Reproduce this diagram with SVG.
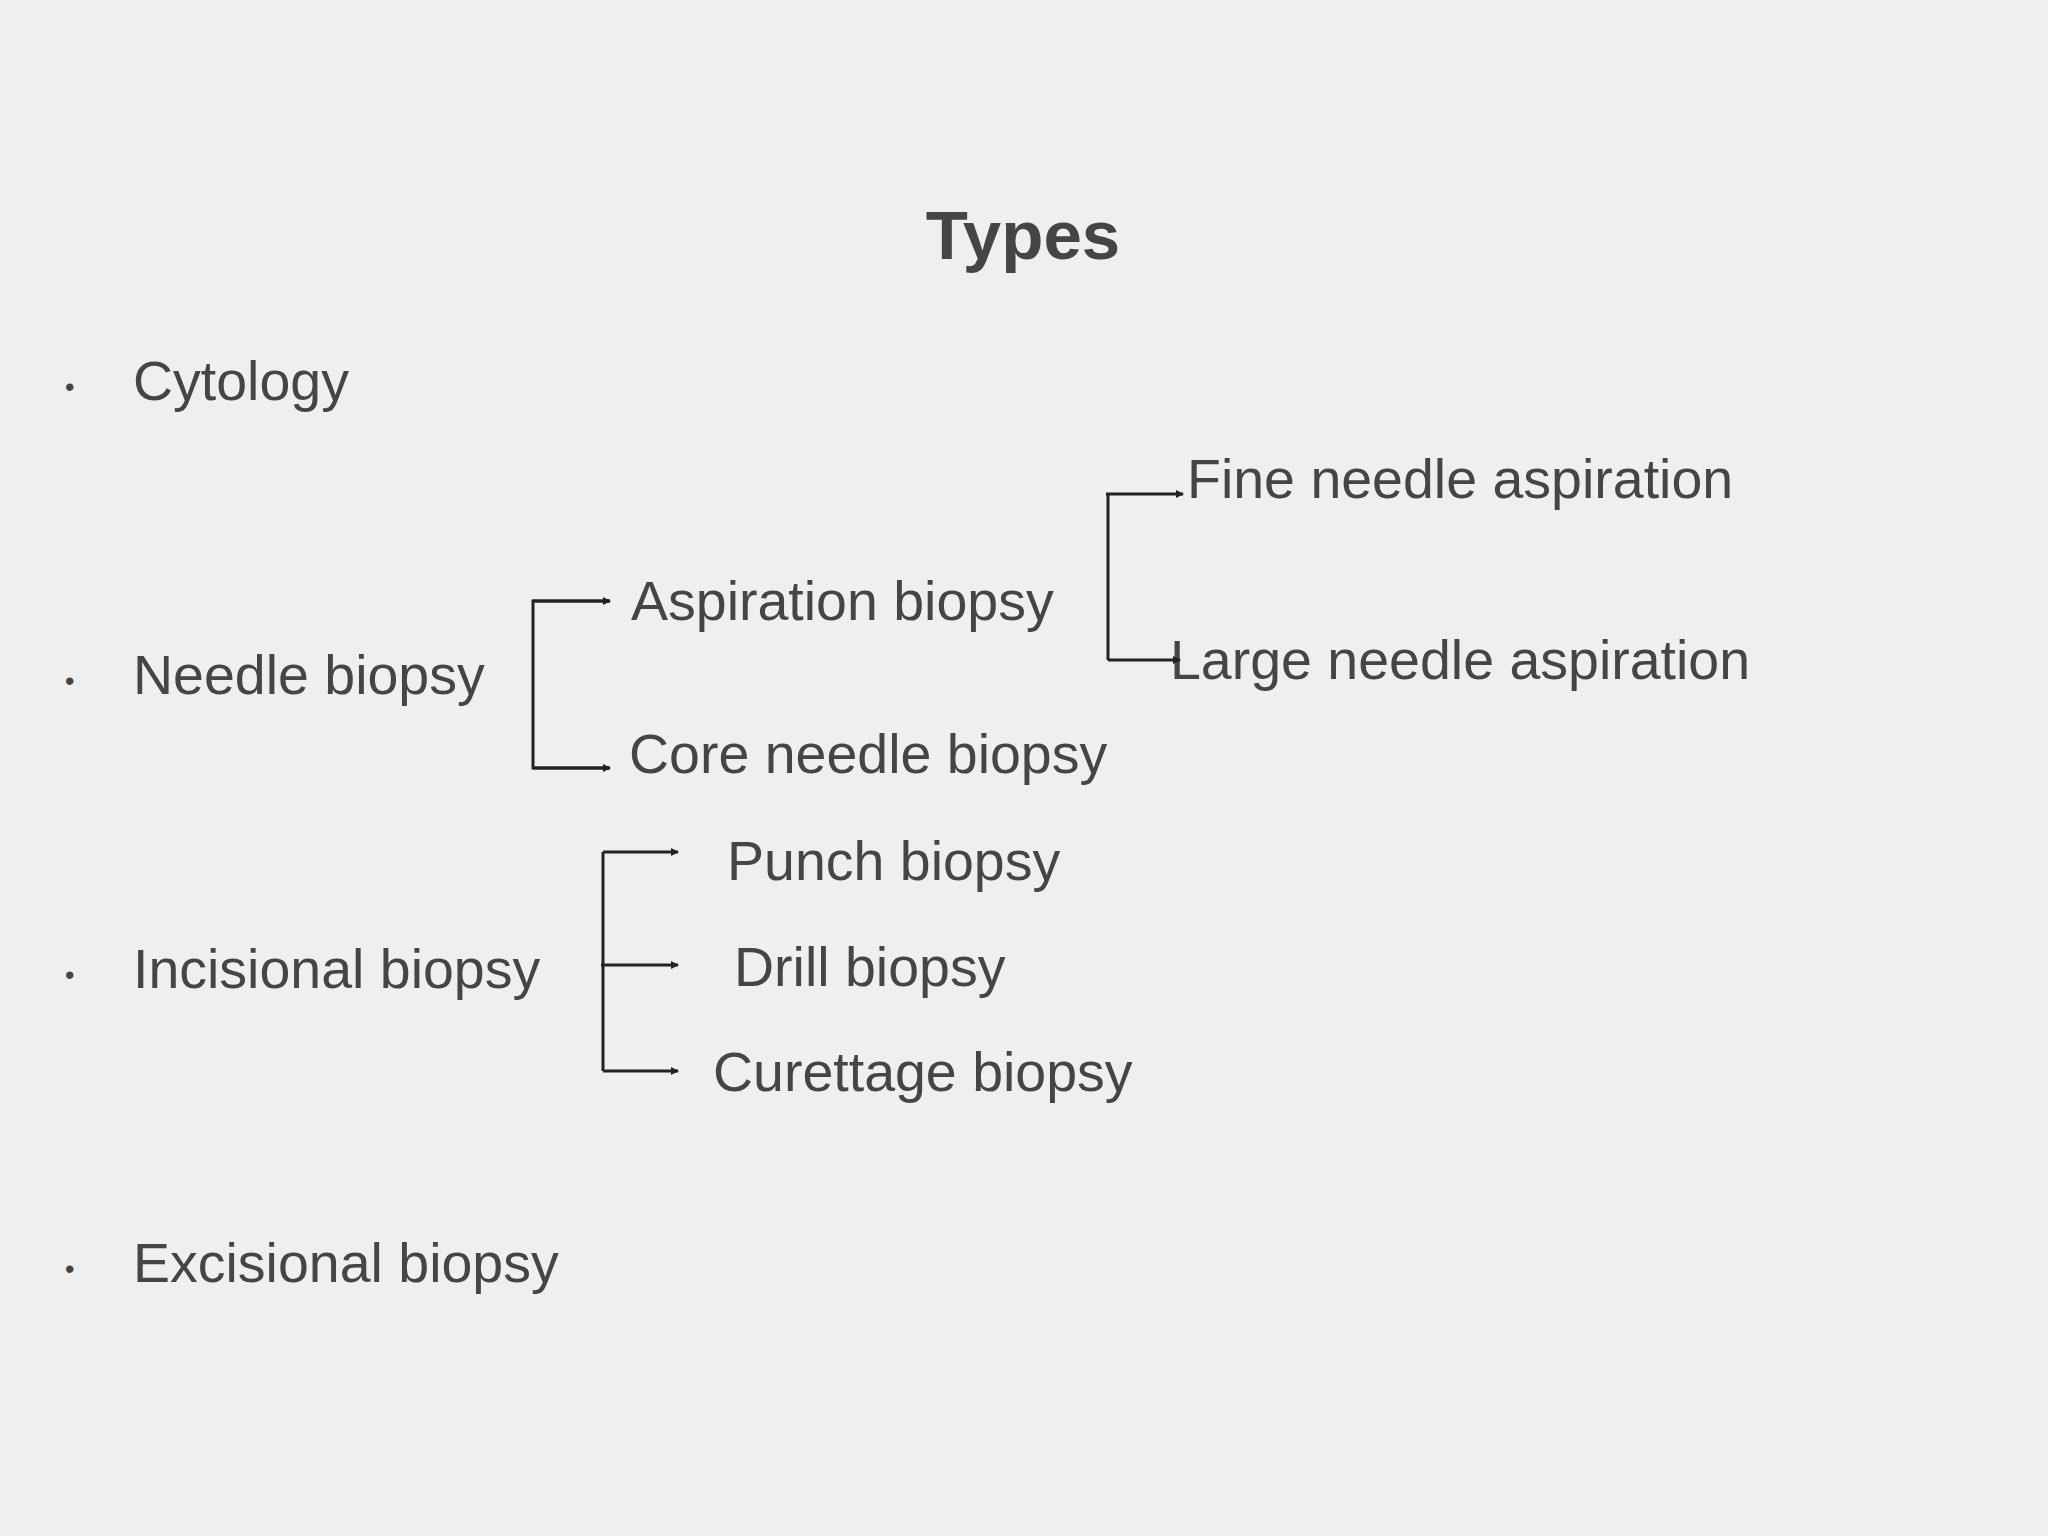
<svg xmlns="http://www.w3.org/2000/svg" width="2048" height="1536" viewBox="0 0 2048 1536">
<defs>
<marker id="ah" markerWidth="8" markerHeight="8" refX="7" refY="4" orient="auto" markerUnits="userSpaceOnUse"><path d="M0,0 L8,4 L0,8 z" fill="#222"/></marker>
<style>
text{font-family:"Liberation Sans",Arial,sans-serif;fill:#454545;font-size:55.5px}
.t{font-weight:bold;font-size:69px;text-anchor:middle}
.b{font-size:27px}
.c path{fill:none;stroke:#222;stroke-width:3}
.a{marker-end:url(#ah)}
</style>
</defs>
<rect width="2048" height="1536" fill="#efefef"/>
<text class="t" x="1023" y="259">Types</text>
<g id="cytology"><text class="b" x="65" y="396">•</text><text x="133" y="400">Cytology</text></g>
<g id="needle"><text class="b" x="65" y="690">•</text><text x="133" y="694">Needle biopsy</text></g>
<g id="incisional"><text class="b" x="65" y="984">•</text><text x="133" y="988">Incisional biopsy</text></g>
<g id="excisional"><text class="b" x="65" y="1278">•</text><text x="133" y="1282">Excisional biopsy</text></g>
<g id="aspiration"><text x="631" y="620">Aspiration biopsy</text></g>
<g id="core"><text x="629" y="773">Core needle biopsy</text></g>
<g id="fine"><text x="1187" y="498">Fine needle aspiration</text></g>
<g id="large"><text x="1170" y="679">Large needle aspiration</text></g>
<g id="punch"><text x="727" y="880">Punch biopsy</text></g>
<g id="drill"><text x="734" y="986">Drill biopsy</text></g>
<g id="curettage"><text x="713" y="1091">Curettage biopsy</text></g>
<g id="connectors" class="c">
<path d="M610,601 H533 V768 H610" />
<path class="a" d="M533,601 H610"/><path class="a" d="M533,768 H610"/>
<path d="M1108,494 V660"/>
<path class="a" d="M1106,494 H1183"/><path class="a" d="M1108,660 H1180"/>
<path d="M603,852 V1071"/>
<path class="a" d="M603,852 H678"/><path class="a" d="M601,965 H678"/><path class="a" d="M603,1071 H678"/>
</g>
</svg>
